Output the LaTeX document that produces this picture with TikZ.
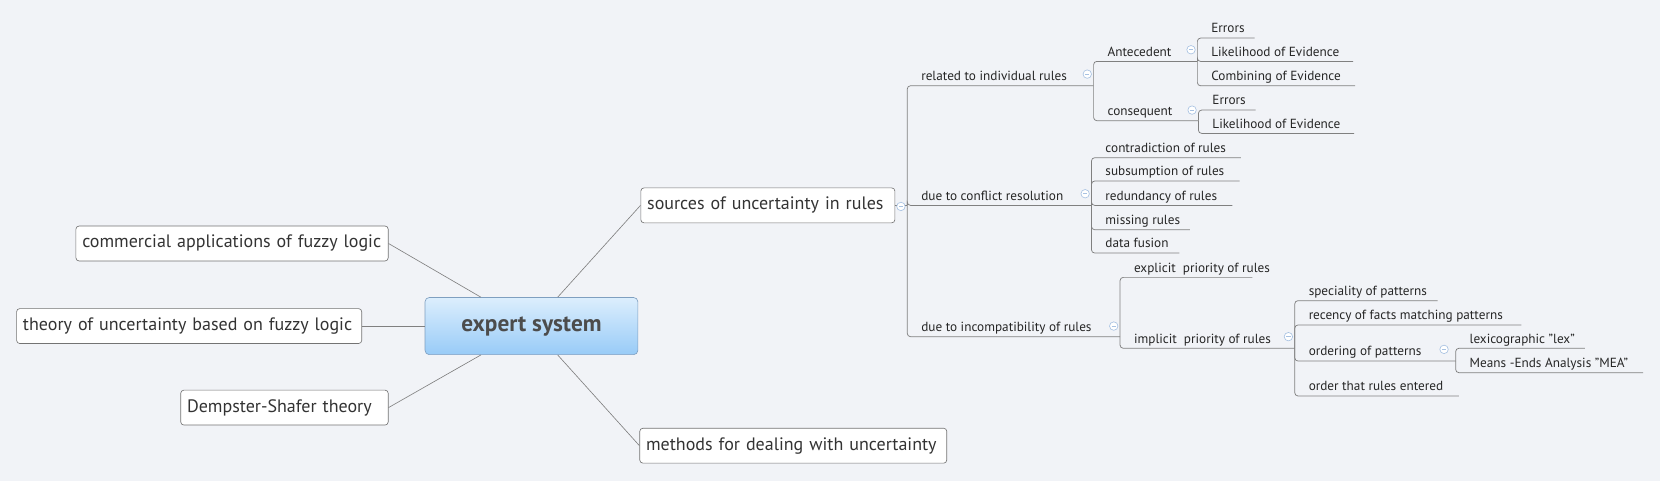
\documentclass[tikz,border=0pt]{standalone}
\usepackage{fontspec}
\setmainfont{PT Sans}
\begin{document}
\begin{tikzpicture}[x=1pt,y=-1pt,
  box/.style={draw=black!55,fill=white,rounded corners=3pt,inner xsep=6pt,minimum height=33pt,align=left,font=\fontsize{17}{19}\selectfont,text=black!80,line width=0.6pt},
  lnk/.style={draw=black!50,line width=0.6pt},
  tr/.style={draw=black!50,line width=0.7pt,rounded corners=3pt},
  lbl/.style={anchor=base west,inner sep=0pt,font=\fontsize{12.5}{14}\selectfont,text=black!85},
  tog/.style={circle,draw=togc,fill=white,minimum size=8pt,inner sep=0pt,line width=0.6pt}]
\definecolor{bg}{HTML}{F1F3F7}
\definecolor{togc}{HTML}{A8C2E2}
\definecolor{ctop}{HTML}{DCEEFD}
\definecolor{cbot}{HTML}{98CBF7}
\definecolor{cbor}{HTML}{7F9FC0}
\fill[bg] (0,0) rectangle (1568,454);
\useasboundingbox (0,0) rectangle (1568,454);
\newcommand\qq{\symbol{34}}
\newcommand\br[5]{%
  \draw[tr] (#2) |- (#4,#3) coordinate (#1-end);
  \node[lbl] (#1) at ([xshift=13pt]#2 |- 0,#3-5) {#5};}
\newcommand\tg[3]{\node[tog] (#1) at (#2,#3) {}; \draw[togc,line width=0.6pt] ([xshift=-2pt]#1.center) -- ([xshift=2pt]#1.center);}
% central
\node[draw=cbor,rounded corners=4pt,top color=ctop,bottom color=cbot,minimum width=201pt,minimum height=54pt,font=\fontsize{22}{24}\bfseries,text=black!70,line width=0.6pt] (c) at (502,308) {expert system};
\node[box,anchor=east,text width=283pt] (com) at (367,230) {commercial applications of fuzzy logic};
\node[box,anchor=east,text width=314pt] (the) at (342,308) {theory of uncertainty based on fuzzy logic};
\node[box,anchor=east,text width=184pt] (dem) at (367,385) {Dempster-Shafer theory};
\node[box,anchor=west,text width=228pt] (src) at (605,194) {sources of uncertainty in rules};
\node[box,anchor=west,text width=278pt] (met) at (604,421) {methods for dealing with uncertainty};
\draw[lnk] (com.east) -- ([xshift=53pt]c.north west);
\draw[lnk] (the.east) -- (c.west);
\draw[lnk] (dem.east) -- ([xshift=53pt]c.south west);
\draw[lnk] (src.west) -- ([xshift=-76pt]c.north east);
\draw[lnk] (met.west) -- ([xshift=-76pt]c.south east);
\coordinate (s-end) at (857,194);
\draw[tr] (src.east) -- (s-end);
\tg{t0}{851}{195}
% level 1
\br{rel}{s-end}{81}{1033}{related to individual rules}
\br{con}{s-end}{194}{1031}{due to conflict resolution}
\br{inc}{s-end}{318}{1058}{due to incompatibility of rules}
\tg{t1}{1027}{70}\tg{t2}{1025}{183}\tg{t3}{1052}{308}
% related
\br{ant}{rel-end}{58}{1131}{Antecedent}
\br{cns}{rel-end}{114}{1132}{consequent}
\tg{t4}{1125}{47}\tg{t5}{1126}{104}
\br{a1}{ant-end}{36}{1185}{Errors}
\br{a2}{ant-end}{58}{1278}{Likelihood of Evidence}
\br{a3}{ant-end}{81}{1280}{Combining of Evidence}
\br{c1}{cns-end}{104}{1186}{Errors}
\br{c2}{cns-end}{126}{1279}{Likelihood of Evidence}
% conflict
\br{k1}{con-end}{149}{1172}{contradiction of rules}
\br{k2}{con-end}{171}{1171}{subsumption of rules}
\br{k3}{con-end}{194}{1164}{redundancy of rules}
\br{k4}{con-end}{217}{1124}{missing rules}
\br{k5}{con-end}{239}{1114}{data fusion}
% incompatibility
\br{exp}{inc-end}{262}{1183}{explicit\ \ priority of rules}
\br{imp}{inc-end}{329}{1223}{implicit\ \ priority of rules}
\tg{t6}{1217}{318}
\br{p1}{imp-end}{284}{1358}{speciality of patterns}
\br{p2}{imp-end}{307}{1437}{recency of facts matching patterns}
\br{p3}{imp-end}{341}{1375}{ordering of patterns}
\br{p4}{imp-end}{374}{1378}{order that rules entered}
\tg{t7}{1364}{330}
\br{o1}{p3-end}{329}{1497}{lexicographic \qq lex\qq}
\br{o2}{p3-end}{352}{1552}{Means -Ends Analysis \qq MEA\qq}
\end{tikzpicture}
\end{document}
